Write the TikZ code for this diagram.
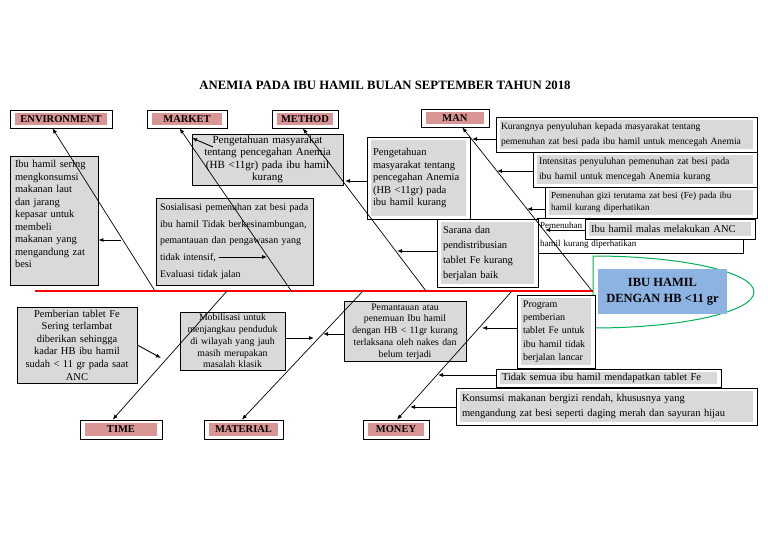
\documentclass[tikz,border=0pt]{standalone}
\usepackage{fontspec}
\setmainfont{Liberation Serif}
\usetikzlibrary{arrows.meta}

\definecolor{catpink}{RGB}{217,149,148}
\definecolor{boxgray}{RGB}{217,217,217}
\definecolor{headblue}{RGB}{141,179,226}
\definecolor{headgreen}{RGB}{0,176,80}

\newcommand{\fsz}[2]{\fontsize{#1}{#2}\selectfont}

\tikzset{
  catbox/.style={draw, line width=0.8pt, fill=white, inner sep=0pt, minimum height=18pt,
    font=\bfseries\fsz{10.5}{12},
    path picture={\fill[catpink] ([shift={(5pt,-3pt)}]path picture bounding box.north west)
      rectangle ([shift={(-5pt,3pt)}]path picture bounding box.south east);}},
  fullbox/.style={draw, line width=0.8pt, fill=boxgray, inner xsep=5pt, inner ysep=2pt},
  insetbox/.style={draw, line width=0.8pt, fill=white, inner xsep=6pt, inner ysep=2pt,
    path picture={\fill[boxgray] ([shift={(4pt,-3pt)}]path picture bounding box.north west)
      rectangle ([shift={(-4pt,3pt)}]path picture bounding box.south east);}},
  plainbox/.style={draw, line width=0.8pt, fill=white, inner xsep=3pt, inner ysep=2pt},
  bone/.style={line width=0.7pt, -{Latex[length=5pt,width=4pt]}},
  arr/.style={line width=0.9pt, -{Latex[length=5pt,width=4pt]}},
}

\begin{document}
\begin{tikzpicture}[x=1pt, y=-1pt]
\useasboundingbox (0,0) rectangle (768,543);

% title
\node[font=\bfseries\fsz{12.75}{15}] (title) at (385,85) {ANEMIA PADA IBU HAMIL BULAN SEPTEMBER TAHUN 2018};

% categories
\node[catbox, minimum width=102pt] (env) at (61,119) {ENVIRONMENT};
\node[catbox, minimum width=80pt] (market) at (187,119) {MARKET};
\node[catbox, minimum width=66pt] (method) at (305,119) {METHOD};
\node[catbox, minimum width=68pt] (man) at (455,118) {MAN};
\node[catbox, minimum width=82pt, minimum height=19pt] (time) at (121,429.5) {TIME};
\node[catbox, minimum width=79pt, minimum height=19pt] (material) at (243.5,429.5) {MATERIAL};
\node[catbox, minimum width=66pt, minimum height=19pt] (money) at (396,429.5) {MONEY};

% spine and head
\coordinate (tail) at (35,291);
\coordinate (headw) at (593,291);
\draw[headgreen, line width=1pt] (593,256) arc[start angle=90, end angle=-90, x radius=161pt, y radius=36pt] -- cycle;
\node[fill=headblue, minimum width=129pt, minimum height=45pt, align=center, font=\bfseries\fsz{12.5}{16}] (effect) at (662.5,291.5) {IBU HAMIL\\DENGAN HB <11 gr};
\draw[red, line width=1.2pt] (tail) -- (headw);

% causes
\node[fullbox, text width=78pt, minimum height=129pt, align=left, font=\fsz{10.5}{12.5}] (env1) at (54,220.5)
  {Ibu hamil sering\\mengkonsumsi\\makanan laut\\dan jarang\\kepasar untuk\\membeli\\makanan yang\\mengandung zat\\besi\\~};
\node[fullbox, text width=141pt, minimum height=51pt, align=center, font=\fsz{11}{12.3}] (mk1) at (267.5,159.5)
  {Pengetahuan masyarakat\\tentang pencegahan Anemia\\(HB <11gr) pada ibu hamil\\kurang};
\node[fullbox, inner xsep=4pt, text width=149pt, minimum height=87pt, align=left, font=\fsz{10}{16.7}] (mk2) at (234.5,241.5)
  {Sosialisasi pemenuhan zat besi pada\\ibu hamil Tidak berkesinambungan,\\pemantauan dan pengawasan yang\\tidak intensif,\\Evaluasi tidak jalan};
\node[insetbox, text width=91pt, minimum height=82pt, align=left, font=\fsz{10.5}{12.5}] (meth1) at (418.5,178)
  {Pengetahuan\\masyarakat tentang\\pencegahan Anemia\\(HB <11gr) pada\\ibu hamil kurang};
\node[insetbox, inner xsep=5pt, text width=251pt, minimum height=35pt, align=left, font=\fsz{9.6}{15}] (man1) at (626.5,134.5)
  {Kurangnya penyuluhan kepada masyarakat tentang\\pemenuhan zat besi pada ibu hamil untuk mencegah Anemia};
\node[insetbox, text width=212pt, minimum height=35pt, align=left, font=\fsz{9.8}{15}] (man2) at (645,169.5)
  {Intensitas penyuluhan pemenuhan zat besi pada\\ibu hamil untuk mencegah Anemia kurang};
\node[insetbox, text width=200pt, minimum height=31pt, align=left, font=\fsz{9.2}{12.5}] (man3) at (651,202.5)
  {Pemenuhan gizi terutama zat besi (Fe) pada ibu\\hamil kurang diperhatikan};
\node[plainbox, text width=200pt, minimum height=35pt, align=left, font=\fsz{9}{18}] (man4) at (640,235.5)
  {Pemenuhan gizi terutama zat besi (Fe) pada ibu\\hamil kurang diperhatikan};
\node[insetbox, text width=158pt, minimum height=20pt, align=left, font=\fsz{10.5}{12}] (man5) at (670,229)
  {Ibu hamil malas melakukan ANC};
\node[insetbox, text width=89pt, minimum height=68pt, align=left, font=\fsz{10.5}{15}] (meth2) at (487.5,253)
  {Sarana dan\\pendistribusian\\tablet Fe kurang\\berjalan baik};
\node[fullbox, inner xsep=4pt, text width=112pt, minimum height=76pt, align=center, font=\fsz{10.5}{12.6}] (time1) at (77,345)
  {Pemberian tablet Fe\\Sering terlambat\\diberikan sehingga\\kadar HB ibu hamil\\sudah < 11 gr pada saat\\ANC};
\node[fullbox, inner xsep=3pt, text width=99pt, minimum height=58pt, align=center, font=\fsz{9.8}{11.7}] (mat1) at (232.5,341)
  {Mobilisasi untuk\\menjangkau penduduk\\di wilayah yang jauh\\masih merupakan\\masalah klasik};
\node[fullbox, inner xsep=3pt, text width=116pt, minimum height=57pt, align=center, font=\fsz{9.8}{11.7}] (mat2) at (405,331.5)
  {Pemantauan atau\\penemuan Ibu hamil\\dengan HB < 11gr kurang\\terlaksana oleh nakes dan\\belum terjadi};
\node[insetbox, text width=66pt, minimum height=73pt, align=left, font=\fsz{10}{13.3}] (mon1) at (556,331.5)
  {Program\\pemberian\\tablet Fe untuk\\ibu hamil tidak\\berjalan lancar};
\node[insetbox, text width=213pt, minimum height=18pt, align=left, font=\fsz{10.5}{12}] (mon2) at (608.5,378)
  {Tidak semua ibu hamil mendapatkan tablet Fe};
\node[insetbox, text width=289pt, minimum height=37pt, align=left, font=\fsz{10.5}{15}] (mon3) at (606.5,406.5)
  {Konsumsi makanan bergizi rendah, khususnya yang\\mengandung zat besi seperti daging merah dan sayuran hijau};

% points on the bones
\coordinate (t-env1) at (121,240);
\coordinate (t-mk1) at (192,138);
\coordinate (t-mk2) at (267,257);
\coordinate (t-meth1) at (345,181);
\coordinate (t-meth2) at (397,251);
\coordinate (t-man1) at (472,139);
\coordinate (t-man2) at (497,171);
\coordinate (t-man3) at (527,209);
\coordinate (t-man5) at (545,230);
\coordinate (t-time1) at (161,358);
\coordinate (t-mat1) at (314,338);
\coordinate (t-mat2) at (323,334);
\coordinate (t-mon1) at (482,328);
\coordinate (t-mon2) at (438,375);
\coordinate (t-mon3) at (410,407);

% cause arrows
\draw[arr] (t-env1) -- (env1.east |- t-env1);
\draw[arr] ([shift={(21pt,-9pt)}]t-mk1) -- (t-mk1);
\draw[arr] ([xshift=63pt]mk2.west |- t-mk2) -- (t-mk2);
\draw[arr] (meth1.west |- t-meth1) -- (t-meth1);
\draw[arr] (meth2.west |- t-meth2) -- (t-meth2);
\draw[arr] (man1.west |- t-man1) -- (t-man1);
\draw[arr] (man2.west |- t-man2) -- (t-man2);
\draw[arr] (man3.west |- t-man3) -- (t-man3);
\draw[arr] (man5.west |- t-man5) -- (t-man5);
\draw[arr] (time1.east) -- (t-time1);
\draw[arr] (mat1.east |- t-mat1) -- (t-mat1);
\draw[arr] (mat2.west |- t-mat2) -- (t-mat2);
\draw[arr] (mon1.west |- t-mon1) -- (t-mon1);
\draw[arr] (mon2.west |- t-mon2) -- (t-mon2);
\draw[arr] (mon3.west |- t-mon3) -- (t-mon3);

% bones
\coordinate (b-env) at (155,291);
\coordinate (b-market) at (292,292);
\coordinate (b-method) at (426,291);
\coordinate (b-man) at (592,291);
\coordinate (b-time) at (227,291);
\coordinate (b-material) at (363,291);
\coordinate (b-money) at (512,291);
\draw[bone] (b-env) -- (env.228);
\draw[bone] (b-market) -- (market.232);
\draw[bone] (b-method) -- (method.257);
\draw[bone] (b-man) -- (man.308);
\draw[bone] (b-time) -- (time.130);
\draw[bone] (b-material) -- (material.99);
\draw[bone] (b-money) -- (money.84);
\end{tikzpicture}
\end{document}
